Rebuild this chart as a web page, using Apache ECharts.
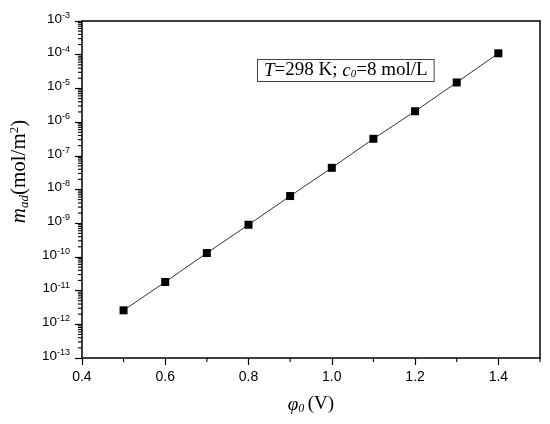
<!DOCTYPE html>
<html>
<head>
<meta charset="utf-8">
<script src="https://cdn.jsdelivr.net/npm/echarts@6/dist/echarts.min.js"></script>
<style>
  html, body { margin: 0; padding: 0; background: #fff; }
  #main { width: 550px; height: 424px; }
</style>
</head>
<body>
<div id="main"></div>
<script>
// 数据: 电位 phi0 (V) 与吸附量 m_ad (mol/m2)
var phi0 = [0.5, 0.6, 0.7, 0.8, 0.9, 1.0, 1.1, 1.2, 1.3, 1.4];
var mAd = [2.6e-12, 1.8e-11, 1.3e-10, 9.0e-10, 6.4e-9, 4.4e-8, 3.2e-7, 2.1e-6, 1.5e-5, 1.1e-4];
// 次刻度位置
var xMinor = [0.5, 0.7, 0.9, 1.1, 1.3, 1.5];
var yDecades = [-13, -12, -11, -10, -9, -8, -7, -6, -5, -4];
var yMant = [2, 3, 4, 5, 6, 7, 8, 9];

var serif = '"Liberation Serif", "Times New Roman", serif';
var sans = '"Liberation Sans", Arial, sans-serif';
var X_MIN = 0.4, X_MAX = 1.5, Y_MIN = 1e-13, Y_MAX = 1e-3;

var points = [];
for (var i = 0; i < phi0.length; i++) {
    points.push([phi0[i], mAd[i]]);
}
var yMinorData = [];
for (var d = 0; d < yDecades.length; d++) {
    for (var k = 0; k < yMant.length; k++) {
        yMinorData.push([X_MIN, yMant[k] * Math.pow(10, yDecades[d])]);
    }
}
var xMinorData = [];
for (var j = 0; j < xMinor.length; j++) {
    xMinorData.push([xMinor[j], Y_MIN]);
}

// 画次刻度的短线
function tickItem(dx, dy) {
    return function (params, api) {
        var p = api.coord([api.value(0), api.value(1)]);
        return {
            type: 'line',
            shape: { x1: p[0], y1: p[1], x2: p[0] + dx, y2: p[1] + dy },
            style: { stroke: '#000', lineWidth: 1.1 }
        };
    };
}

var myChart = echarts.init(document.getElementById('main'));
var option = {
    backgroundColor: '#fff',
    animation: false,
    grid: {
        left: 81,
        right: 10,
        top: 21,
        bottom: 66
    },
    xAxis: [{
        type: 'value',
        min: X_MIN,
        max: X_MAX,
        interval: 0.2,
        name: '{i|φ}{sub|0} {n|(V)}',
        nameLocation: 'middle',
        nameGap: 36,
        nameTextStyle: {
            rich: {
                i: { fontFamily: serif, fontStyle: 'italic', fontSize: 19, color: '#000' },
                sub: { fontFamily: serif, fontStyle: 'italic', fontSize: 12, color: '#000', verticalAlign: 'bottom', padding: [9, 0, 0, 0] },
                n: { fontFamily: serif, fontSize: 19, color: '#000' }
            }
        },
        axisLine: { onZero: false, lineStyle: { color: '#000', width: 1.5 } },
        axisTick: { show: true, length: 7, lineStyle: { color: '#000', width: 1.2 } },
        splitLine: { show: false },
        axisLabel: {
            fontFamily: sans,
            fontSize: 14,
            color: '#000',
            margin: 12,
            showMaxLabel: false,
            formatter: function (v) { return v.toFixed(1); }
        }
    }, {
        type: 'value',
        position: 'top',
        min: X_MIN,
        max: X_MAX,
        axisLine: { show: true, onZero: false, lineStyle: { color: '#000', width: 1.5 } },
        axisTick: { show: false },
        axisLabel: { show: false },
        splitLine: { show: false }
    }],
    yAxis: [{
        type: 'log',
        logBase: 10,
        min: Y_MIN,
        max: Y_MAX,
        name: '{i|m}{sub|ad}{n|(mol/m}{sup|2}{n|)}',
        nameLocation: 'middle',
        nameGap: 44,
        nameTextStyle: {
            padding: [0, 0, 0, 36],
            rich: {
                i: { fontFamily: serif, fontStyle: 'italic', fontSize: 21, color: '#000' },
                sub: { fontFamily: serif, fontStyle: 'italic', fontSize: 13, color: '#000', verticalAlign: 'bottom', padding: [10, 0, 0, 0] },
                sup: { fontFamily: serif, fontSize: 13, color: '#000', verticalAlign: 'top', padding: [0, 0, 10, 0] },
                n: { fontFamily: serif, fontSize: 21, color: '#000' }
            }
        },
        axisLine: { show: true, onZero: false, lineStyle: { color: '#000', width: 1.5 } },
        axisTick: { show: true, length: 7, lineStyle: { color: '#000', width: 1.2 } },
        splitLine: { show: false },
        axisLabel: {
            color: '#000',
            margin: 12,
            padding: [0, 0, 4, 0],
            formatter: function (v) {
                var e = Math.round(Math.log10(v));
                return '{b|10}{s|' + e + '}';
            },
            rich: {
                b: { fontFamily: sans, fontSize: 13.5, color: '#000' },
                s: { fontFamily: sans, fontSize: 9, color: '#000', verticalAlign: 'top', padding: [0, 0, 7, 0] }
            }
        }
    }, {
        type: 'log',
        position: 'right',
        min: Y_MIN,
        max: Y_MAX,
        axisLine: { show: true, onZero: false, lineStyle: { color: '#000', width: 1.5 } },
        axisTick: { show: false },
        axisLabel: { show: false },
        splitLine: { show: false }
    }],
    graphic: [{
        type: 'text',
        left: 257,
        top: 59,
        style: {
            text: '{i|T}{n|=298 K; }{i|c}{sub|0}{n|=8 mol/L}',
            rich: {
                i: { fontFamily: serif, fontStyle: 'italic', fontSize: 19, fill: '#000' },
                sub: { fontFamily: serif, fontStyle: 'italic', fontSize: 11, fill: '#000', verticalAlign: 'bottom', padding: [8, 0, 0, 0] },
                n: { fontFamily: serif, fontSize: 19, fill: '#000' }
            },
            backgroundColor: '#fff',
            borderColor: '#444',
            borderWidth: 1,
            padding: [1, 6, 1, 6]
        }
    }],
    series: [{
        type: 'line',
        data: points,
        xAxisIndex: 0,
        yAxisIndex: 0,
        symbol: 'rect',
        symbolSize: 8,
        itemStyle: { color: '#000' },
        lineStyle: { color: '#000', width: 0.8 },
        z: 5
    }, {
        type: 'custom',
        data: yMinorData,
        xAxisIndex: 0,
        yAxisIndex: 0,
        clip: false,
        silent: true,
        renderItem: tickItem(-4, 0)
    }, {
        type: 'custom',
        data: xMinorData,
        xAxisIndex: 0,
        yAxisIndex: 0,
        clip: false,
        silent: true,
        renderItem: tickItem(0, 4)
    }]
};
myChart.setOption(option);
</script>
</body>
</html>
